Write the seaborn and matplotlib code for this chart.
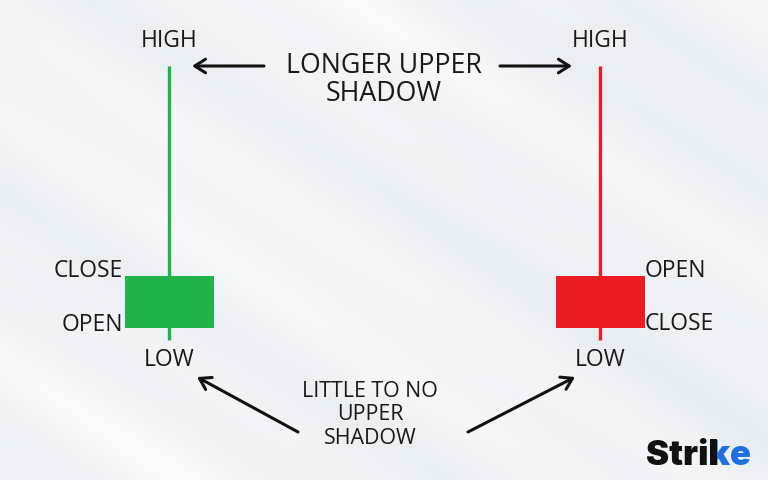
import numpy as np
import matplotlib
matplotlib.use("Agg")
import matplotlib.pyplot as plt
from matplotlib.patches import Rectangle
import seaborn as sns

# Data
candles = ["Bullish", "Bearish"]
open_p = [14, 31]
close_p = [31, 14]
high_p = [100, 100]
low_p = [10, 10]
colors = ["#22b24c", "#ed1c24"]

sns.set_theme(style="white")
plt.rcParams['font.family'] = ['Open Sans', 'DejaVu Sans']

fig = plt.figure(figsize=(7.68, 4.8), dpi=100)
ax = fig.add_axes([0, 0, 1, 1])

# axis mapping: x index 0 at px 169, 1 at px 600; price 10 at px 340, 100 at px 66
pxu = 431.0
xmin, xmax = -169 / pxu, 1 + 168 / pxu
ppu = (340 - 66) / 90.0
ytop = 100 + 66 / ppu
ybot = 10 - 140 / ppu

# background
h, w = 480, 768
yy, xx = np.mgrid[0:h, 0:w]
d = (yy - 0.65 * xx)
t = 0.5 + 0.25 * np.sin(d / 45.0) + 0.15 * np.sin(d / 19.0 + 1.3) + 0.1 * np.sin(xx / 150.0)
t = np.clip(t, 0, 1)
lo = np.array([0.905, 0.928, 0.950])
hi = np.array([0.975, 0.982, 0.990])
img = lo[None, None, :] * (1 - t[..., None]) + hi[None, None, :] * t[..., None]
ax.imshow(img, extent=[xmin, xmax, ybot, ytop], aspect='auto', zorder=0)

xs = np.arange(len(candles))
for i in xs:
    ax.vlines(i, low_p[i], high_p[i], color=colors[i], lw=2.4, zorder=2)
    lo_ = min(open_p[i], close_p[i])
    ax.bar(i, abs(close_p[i] - open_p[i]), bottom=lo_, width=89 / pxu,
           color=colors[i], edgecolor='none', linewidth=0, zorder=3)

ax.set_xlim(xmin, xmax)
ax.set_ylim(ybot, ytop)
ax.axis('off')

def py(p):
    return ytop - p / ppu

def pxx(p):
    return xmin + p / pxu

tc = "#1a1a1a"
fs = 16.5
ax.text(0, py(41), "HIGH", ha='center', va='center', fontsize=fs, color=tc)
ax.text(1, py(41), "HIGH", ha='center', va='center', fontsize=fs, color=tc)
ax.text(0, py(360), "LOW", ha='center', va='center', fontsize=fs, color=tc)
ax.text(1, py(360), "LOW", ha='center', va='center', fontsize=fs, color=tc)
ax.text(pxx(123), py(271), "CLOSE", ha='right', va='center', fontsize=fs, color=tc)
ax.text(pxx(123), py(325), "OPEN", ha='right', va='center', fontsize=fs, color=tc)
ax.text(pxx(645), py(271), "OPEN", ha='left', va='center', fontsize=fs, color=tc)
ax.text(pxx(645), py(324), "CLOSE", ha='left', va='center', fontsize=fs, color=tc)

ax.text(pxx(384), py(80), "LONGER UPPER\nSHADOW", ha='center', va='center',
        fontsize=19.3, color=tc, linespacing=0.97)
ax.text(pxx(370), py(415), "LITTLE TO NO\nUPPER\nSHADOW", ha='center', va='center',
        fontsize=15.4, color=tc, linespacing=1.16)

arr = dict(arrowstyle='->,head_length=0.55,head_width=0.35', color='#111111', lw=2.2,
           mutation_scale=14, shrinkA=0, shrinkB=0)
ax.annotate("", xy=(pxx(192), py(66)), xytext=(pxx(264), py(66)), arrowprops=arr)
ax.annotate("", xy=(pxx(572), py(66)), xytext=(pxx(500), py(66)), arrowprops=arr)
ax.annotate("", xy=(pxx(197), py(377)), xytext=(pxx(298), py(432)), arrowprops=arr)
ax.annotate("", xy=(pxx(575), py(377)), xytext=(pxx(468), py(432)), arrowprops=arr)

# logo
lf = dict(fontsize=25, fontweight='black', family=['Inter', 'DejaVu Sans'], va='baseline', ha='left')
inv = ax.transData.inverted()
base = py(465)
t1 = ax.text(pxx(646), base, "Stri", color='#111111', **lf)
fig.canvas.draw()
x1 = inv.transform((t1.get_window_extent().x1, 0))[0]
t2 = ax.text(x1, base, "k", color='#1f6fe0', **lf)
fig.canvas.draw()
x2 = inv.transform((t2.get_window_extent().x1, 0))[0]
ax.text(x2, base, "e", color='#1f6fe0', **lf)
# black stem of the k
stem_w = 7.0 / pxu
ax.add_patch(Rectangle((x1 + 2.0 / pxu, base), stem_w, 26.0 / ppu,
                       color='#111111', lw=0, zorder=5))

fig.savefig("out.png", dpi=100)
